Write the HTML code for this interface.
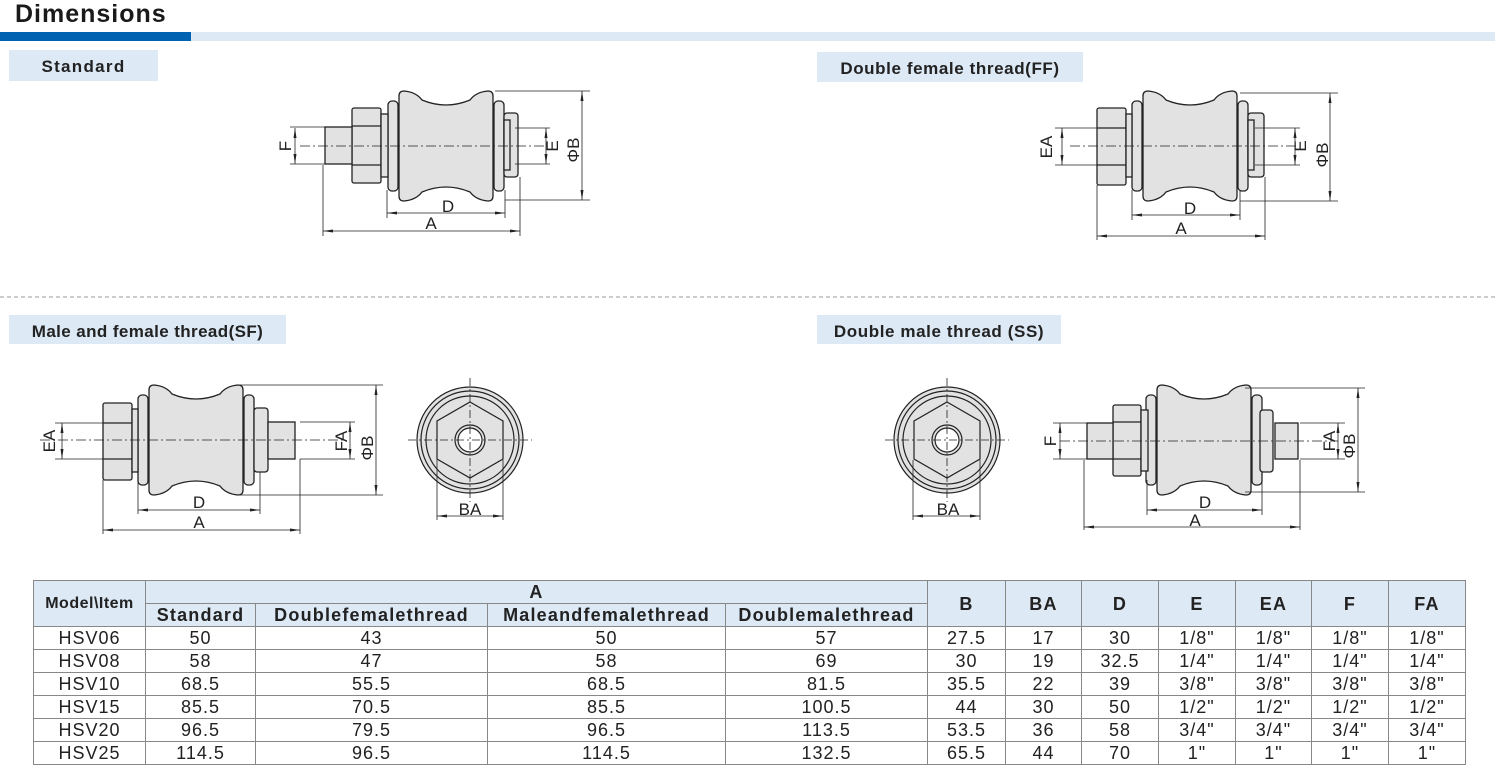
<!DOCTYPE html>
<html><head><meta charset="utf-8"><style>
body{margin:0;width:1495px;height:769px;background:#fff;overflow:hidden;font-family:"Liberation Sans",sans-serif;position:relative}
.t{position:absolute;left:15px;top:0px;font-size:25px;font-weight:bold;color:#1a1a1a;letter-spacing:1px}
.lab{position:absolute;background:#dde9f5;font-weight:bold;font-size:17px;color:#222;line-height:33px;letter-spacing:1.3px;white-space:nowrap}
table{position:absolute;left:33px;top:580px;border-collapse:collapse;font-size:18px;color:#222;letter-spacing:1px}
td,th{border:1px solid #888;text-align:center;padding:0;height:22px;line-height:20px;white-space:nowrap}
th{background:#dde9f5;font-weight:bold;letter-spacing:1.2px}
</style></head><body>
<div class="t">Dimensions</div>
<div style="position:absolute;left:0;top:32px;width:191px;height:9px;background:#0062b1"></div>
<div style="position:absolute;left:191px;top:32px;width:1304px;height:9px;background:#dde9f5"></div>
<div class="lab" style="left:9px;top:50px;width:149px;height:31px;text-align:center;line-height:34px">Standard</div>
<div class="lab" style="left:817px;top:52px;width:266px;height:30px;text-align:center;letter-spacing:0.6px">Double female thread(FF)</div>
<div class="lab" style="left:9px;top:315px;width:277px;height:29px;text-align:center;letter-spacing:0.4px">Male and female thread(SF)</div>
<div class="lab" style="left:817px;top:315px;width:244px;height:29px;text-align:center;letter-spacing:0.6px">Double male thread (SS)</div>
<svg width="1495" height="769" style="position:absolute;left:0;top:0">
<defs>
<marker id="ar" markerWidth="10" markerHeight="6" refX="10" refY="3" orient="auto-start-reverse" markerUnits="userSpaceOnUse"><path d="M0,1.5 L10,3 L0,4.5Z" fill="#222"/></marker>
<g id="spool" fill="#e2e2e2" stroke="#222" stroke-width="1.3">
<rect x="-58" y="-45" width="10" height="90" rx="4"/><rect x="48" y="-45" width="10" height="90" rx="4"/>
<path d="M-47,-50 Q-47,-55 -42,-55 Q-30,-54 -24,-46 Q0,-36 24,-46 Q30,-54 42,-55 Q47,-55 47,-50 L47,50 Q47,55 42,55 Q30,54 24,46 Q0,36 -24,46 Q-30,54 -42,55 Q-47,55 -47,50 Z"/>
</g>
<g id="endv" fill="#e2e2e2" stroke="#222" stroke-width="1.2">
<circle r="53"/><circle r="49"/><circle r="44"/>
<polygon points="0,-38 33,-19 33,19 0,38 -33,19 -33,-19"/>
<circle r="15"/><circle r="12" fill="#fff"/>
<path d="M-62,0H62M0,-62V62" stroke-dasharray="8,3,2,3" stroke-width="0.8" fill="none"/>
</g>
</defs>
<line x1="0" y1="297" x2="1495" y2="297" stroke="#999" stroke-dasharray="4,3"/>
<g stroke="#222" fill="#e2e2e2" stroke-width="1.3">
<use href="#spool" x="446" y="146"/>
<rect x="352" y="108" width="29" height="75" rx="2"/><line x1="352" y1="126" x2="381" y2="126"/><line x1="352" y1="165" x2="381" y2="165"/>
<rect x="381" y="114" width="7" height="63"/>
<rect x="325" y="127" width="27" height="37"/>
<rect x="504" y="113" width="14" height="64" rx="3"/><rect x="504" y="120" width="6" height="50"/>
<use href="#spool" x="1190" y="146"/>
<rect x="1097" y="108" width="29" height="77" rx="2"/><line x1="1097" y1="128" x2="1126" y2="128"/><line x1="1097" y1="165" x2="1126" y2="165"/>
<rect x="1126" y="114" width="6" height="63"/>
<rect x="1248" y="113" width="16" height="64" rx="3"/><rect x="1248" y="120" width="6" height="50"/>
<use href="#spool" x="196" y="440"/>
<rect x="103" y="403" width="29" height="77" rx="2"/><line x1="103" y1="423" x2="132" y2="423"/><line x1="103" y1="459" x2="132" y2="459"/>
<rect x="132" y="409" width="6" height="63"/>
<rect x="254" y="408" width="14" height="64" rx="3"/>
<rect x="268" y="422" width="27" height="37"/>
<use href="#spool" x="1204" y="440"/>
<rect x="1113" y="405" width="28" height="71" rx="2"/><line x1="1113" y1="422" x2="1141" y2="422"/><line x1="1113" y1="459" x2="1141" y2="459"/>
<rect x="1141" y="410" width="7" height="61"/>
<rect x="1087" y="423" width="26" height="36"/>
<rect x="1260" y="410" width="13" height="62" rx="3"/>
<rect x="1275" y="423" width="23" height="36"/>
</g>
<use href="#endv" x="470" y="440"/>
<use href="#endv" x="947" y="440"/>
<g stroke="#222" stroke-width="0.8" fill="none">
<path d="M300,146H545M1070,146H1298M40,440H345M1060,441H1338" stroke-dasharray="10,3,2,3"/>
<path d="M290,127H325M290,164H325M495,91H590M505,200H590M515,128H550M515,164H550"/>
<line x1="295" y1="128" x2="295" y2="164" marker-start="url(#ar)" marker-end="url(#ar)"/>
<line x1="546" y1="128" x2="546" y2="164" marker-start="url(#ar)" marker-end="url(#ar)"/>
<line x1="582" y1="91" x2="582" y2="200" marker-start="url(#ar)" marker-end="url(#ar)"/>
<path d="M387,190V218M505,190V218M323,165V236M520,177V236"/>
<line x1="387" y1="213" x2="505" y2="213" marker-start="url(#ar)" marker-end="url(#ar)"/>
<line x1="323" y1="231" x2="520" y2="231" marker-start="url(#ar)" marker-end="url(#ar)"/>
<path d="M1055,128H1097M1055,165H1097M1240,93H1338M1240,201H1338M1255,128H1300M1255,165H1300M1132,190V220M1240,190V220M1097,185V240M1265,177V240"/>
<line x1="1062" y1="128" x2="1062" y2="165" marker-start="url(#ar)" marker-end="url(#ar)"/>
<line x1="1295" y1="128" x2="1295" y2="165" marker-start="url(#ar)" marker-end="url(#ar)"/>
<line x1="1330" y1="93" x2="1330" y2="201" marker-start="url(#ar)" marker-end="url(#ar)"/>
<line x1="1132" y1="215" x2="1240" y2="215" marker-start="url(#ar)" marker-end="url(#ar)"/>
<line x1="1097" y1="236" x2="1265" y2="236" marker-start="url(#ar)" marker-end="url(#ar)"/>
<path d="M55,423H103M55,459H103M300,422H355M300,459H355M240,385H383M240,495H383M138,480V514M260,472V514M103,480V534M300,459V534"/>
<line x1="62" y1="423" x2="62" y2="459" marker-start="url(#ar)" marker-end="url(#ar)"/>
<line x1="350" y1="422" x2="350" y2="459" marker-start="url(#ar)" marker-end="url(#ar)"/>
<line x1="376" y1="385" x2="376" y2="495" marker-start="url(#ar)" marker-end="url(#ar)"/>
<line x1="138" y1="510" x2="260" y2="510" marker-start="url(#ar)" marker-end="url(#ar)"/>
<line x1="103" y1="530" x2="300" y2="530" marker-start="url(#ar)" marker-end="url(#ar)"/>
<path d="M437,460V520M503,460V520M913,460V520M980,460V520"/>
<line x1="437" y1="516" x2="503" y2="516" marker-start="url(#ar)" marker-end="url(#ar)"/>
<line x1="913" y1="516" x2="980" y2="516" marker-start="url(#ar)" marker-end="url(#ar)"/>
<path d="M1053,423H1087M1053,459H1087M1300,423H1345M1300,459H1345M1245,388H1365M1245,492H1365M1147,480V515M1262,480V515M1084,460V530M1300,460V530"/>
<line x1="1060" y1="423" x2="1060" y2="459" marker-start="url(#ar)" marker-end="url(#ar)"/>
<line x1="1338" y1="423" x2="1338" y2="459" marker-start="url(#ar)" marker-end="url(#ar)"/>
<line x1="1358" y1="388" x2="1358" y2="492" marker-start="url(#ar)" marker-end="url(#ar)"/>
<line x1="1147" y1="510" x2="1262" y2="510" marker-start="url(#ar)" marker-end="url(#ar)"/>
<line x1="1084" y1="527" x2="1300" y2="527" marker-start="url(#ar)" marker-end="url(#ar)"/>
</g>
<g font-family="Liberation Sans,sans-serif" font-size="17" fill="#222" text-anchor="middle">
<text x="448" y="212">D</text><text x="431" y="229">A</text>
<text x="1190" y="214">D</text><text x="1181" y="234">A</text>
<text x="199" y="508">D</text><text x="199" y="528">A</text>
<text x="1205" y="508">D</text><text x="1195" y="526">A</text>
<text x="470" y="515">BA</text><text x="948" y="515">BA</text>
<text transform="translate(291,146) rotate(-90)">F</text>
<text transform="translate(558,146) rotate(-90)">E</text>
<text transform="translate(579,150) rotate(-90)">ΦB</text>
<text transform="translate(1052,147) rotate(-90)">EA</text>
<text transform="translate(1306,146) rotate(-90)">E</text>
<text transform="translate(1328,155) rotate(-90)">ΦB</text>
<text transform="translate(55,441) rotate(-90)">EA</text>
<text transform="translate(347,441) rotate(-90)">FA</text>
<text transform="translate(373,448) rotate(-90)">ΦB</text>
<text transform="translate(1056,441) rotate(-90)">F</text>
<text transform="translate(1335,441) rotate(-90)">FA</text>
<text transform="translate(1355,446) rotate(-90)">ΦB</text>
</g>
</svg>
<table>
<tr><th rowspan="2" style="width:111px;font-size:16px;letter-spacing:0.5px">Model\Item</th><th colspan="4">A</th><th rowspan="2" style="width:77px">B</th><th rowspan="2" style="width:75px">BA</th><th rowspan="2" style="width:76px">D</th><th rowspan="2" style="width:76px">E</th><th rowspan="2" style="width:75px">EA</th><th rowspan="2" style="width:76px">F</th><th rowspan="2" style="width:76px">FA</th></tr>
<tr><th style="width:109px">Standard</th><th style="width:231px">Doublefemalethread</th><th style="width:237px">Maleandfemalethread</th><th style="width:201px">Doublemalethread</th></tr>
<tr><td>HSV06</td><td>50</td><td>43</td><td>50</td><td>57</td><td>27.5</td><td>17</td><td>30</td><td>1/8"</td><td>1/8"</td><td>1/8"</td><td>1/8"</td></tr>
<tr><td>HSV08</td><td>58</td><td>47</td><td>58</td><td>69</td><td>30</td><td>19</td><td>32.5</td><td>1/4"</td><td>1/4"</td><td>1/4"</td><td>1/4"</td></tr>
<tr><td>HSV10</td><td>68.5</td><td>55.5</td><td>68.5</td><td>81.5</td><td>35.5</td><td>22</td><td>39</td><td>3/8"</td><td>3/8"</td><td>3/8"</td><td>3/8"</td></tr>
<tr><td>HSV15</td><td>85.5</td><td>70.5</td><td>85.5</td><td>100.5</td><td>44</td><td>30</td><td>50</td><td>1/2"</td><td>1/2"</td><td>1/2"</td><td>1/2"</td></tr>
<tr><td>HSV20</td><td>96.5</td><td>79.5</td><td>96.5</td><td>113.5</td><td>53.5</td><td>36</td><td>58</td><td>3/4"</td><td>3/4"</td><td>3/4"</td><td>3/4"</td></tr>
<tr><td>HSV25</td><td>114.5</td><td>96.5</td><td>114.5</td><td>132.5</td><td>65.5</td><td>44</td><td>70</td><td>1"</td><td>1"</td><td>1"</td><td>1"</td></tr>
</table>
</body></html>
